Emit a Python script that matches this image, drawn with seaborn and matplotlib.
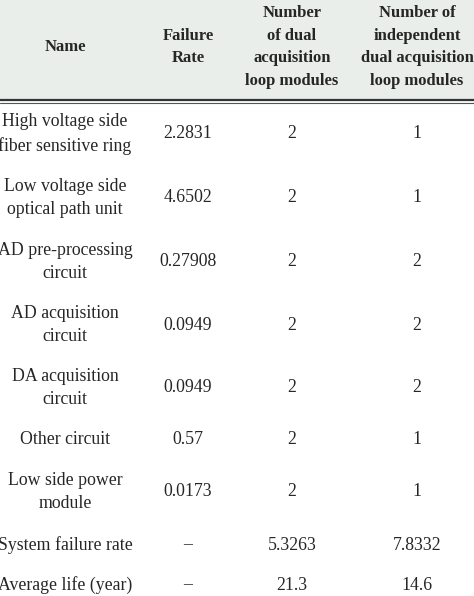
import matplotlib
matplotlib.use('Agg')
import matplotlib.pyplot as plt
import seaborn as sns

sns.set_style('white')
plt.rcParams['font.family'] = ['Liberation Serif', 'DejaVu Serif']

headers = ['Name', 'Failure\nRate', 'Number\nof dual\nacquisition\nloop modules',
           'Number of\nindependent\ndual acquisition\nloop modules']
names = ['High voltage side\nfiber sensitive ring', 'Low voltage side\noptical path unit',
         'AD pre-processing\ncircuit', 'AD acquisition\ncircuit', 'DA acquisition\ncircuit',
         'Other circuit', 'Low side power\nmodule', 'System failure rate', 'Average life (year)']
failure_rate = ['2.2831', '4.6502', '0.27908', '0.0949', '0.0949', '0.57', '0.0173', '–', '–']
dual = ['2', '2', '2', '2', '2', '2', '2', '5.3263', '21.3']
independent = ['1', '1', '2', '2', '2', '1', '1', '7.8332', '14.6']

W, H = 474, 596
col_x = [65, 188, 292, 417]
row_y = [134, 198, 262, 325, 388, 440, 492, 545, 585]

fig = plt.figure(figsize=(W / 100, H / 100), dpi=100)
ax = fig.add_axes([0, 0, 1, 1])
ax.set_xlim(0, W)
ax.set_ylim(H, 0)
ax.set_axis_off()

# header band with double rule underneath
ax.axhspan(0, 100, color='#e9eeea', zorder=0)
ax.axhline(100, color='#333333', lw=1.6)
ax.axhline(103, color='#555555', lw=0.8)

for x, h in zip(col_x, headers):
    ax.text(x, 47, h, ha='center', va='center', fontsize=12,
            fontweight='bold', linespacing=1.55)

for i, y in enumerate(row_y):
    cells = [names[i], failure_rate[i], dual[i], independent[i]]
    for x, c in zip(col_x, cells):
        ax.text(x, y, c, ha='center', va='center', fontsize=12.8, linespacing=1.5)

fig.savefig('out.png', dpi=100)
